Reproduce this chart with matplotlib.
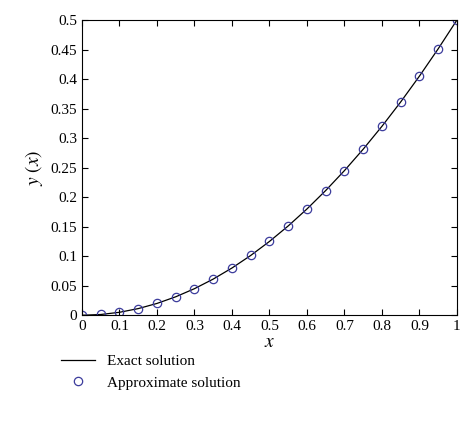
import matplotlib
matplotlib.use("Agg")
import matplotlib.pyplot as plt

plt.rcParams['font.family'] = ['Liberation Serif', 'DejaVu Serif']
plt.rcParams['mathtext.fontset'] = 'stix'

x_vals = [0, 0.05, 0.1, 0.15, 0.2, 0.25, 0.3, 0.35, 0.4, 0.45, 0.5,
          0.55, 0.6, 0.65, 0.7, 0.75, 0.8, 0.85, 0.9, 0.95, 1.0]
exact = [0, 0.00125, 0.005, 0.01125, 0.02, 0.03125, 0.045, 0.06125, 0.08, 0.10125, 0.125,
         0.15125, 0.18, 0.21125, 0.245, 0.28125, 0.32, 0.36125, 0.405, 0.45125, 0.5]
approx = [0, 0.0013, 0.005, 0.0112, 0.02, 0.0312, 0.045, 0.0612, 0.08, 0.1012, 0.125,
          0.1512, 0.18, 0.2112, 0.245, 0.2812, 0.32, 0.3612, 0.405, 0.4512, 0.5]

fig = plt.figure(figsize=(4.74, 4.26), dpi=100)
ax = fig.add_axes([0.173, 0.26, 0.791, 0.693])
l1, = ax.plot(x_vals, exact, color='black', lw=0.9)
l2, = ax.plot(x_vals, approx, 'o', mfc='none', mec='#3c3c9c', ms=6, mew=0.9, ls='none')
ax.set_xlim(0, 1)
ax.set_ylim(0, 0.5)
ax.set_xticks([i / 10 for i in range(11)])
ax.set_xticklabels(['0', '0.1', '0.2', '0.3', '0.4', '0.5', '0.6', '0.7', '0.8', '0.9', '1'])
ax.set_yticks([i * 0.05 for i in range(11)])
ax.set_yticklabels(['0', '0.05', '0.1', '0.15', '0.2', '0.25', '0.3', '0.35', '0.4', '0.45', '0.5'])
ax.tick_params(direction='in', labelsize=11, top=True, right=True, length=4)
ax.set_xlabel('$x$', fontsize=14, labelpad=1)
ax.set_ylabel('$y\\ (x)$', fontsize=14, labelpad=4)
fig.legend([l1, l2], ['Exact solution', 'Approximate solution'], loc='upper left',
           bbox_to_anchor=(0.1, 0.2), frameon=False, fontsize=11, handlelength=2.2)
fig.savefig('out.png', dpi=100)
